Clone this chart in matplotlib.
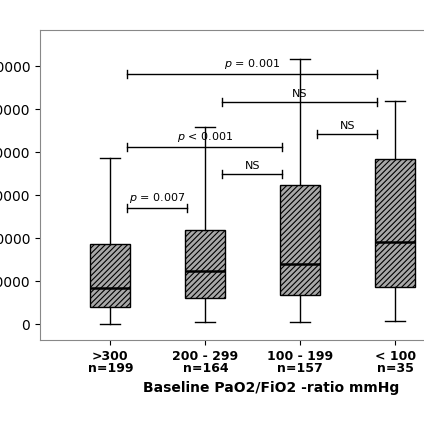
import matplotlib.pyplot as plt

groups = ['>300\nn=199', '200 - 299\nn=164', '100 - 199\nn=157', '< 100\nn=35']
whis_lo = [0, 5000, 5000, 7000]
q1 = [40000, 60000, 67000, 86000]
med = [84000, 123000, 140000, 190000]
q3 = [186000, 220000, 323000, 384000]
whis_hi = [386000, 458000, 616000, 519000]

# comparisons: (from group, to group, height, label)
comps = [(1, 4, 581000, '$p$ = 0.001'), (2, 4, 516000, 'NS'), (3, 4, 442000, 'NS'),
         (1, 3, 412000, '$p$ < 0.001'), (2, 3, 349000, 'NS'), (1, 2, 270000, '$p$ = 0.007')]
yticks = [0, 100000, 200000, 300000, 400000, 500000, 600000]

stats = [dict(whislo=a, q1=b, med=c, q3=d, whishi=e, fliers=[])
         for a, b, c, d, e in zip(whis_lo, q1, med, q3, whis_hi)]

fig = plt.figure(figsize=(4.24, 4.24), dpi=100)
ax = fig.add_axes([40 / 424, 84 / 424, 420 / 424, 310 / 424])
plt.rcParams['hatch.linewidth'] = 0.8
bp = ax.bxp(stats, positions=[1, 2, 3, 4], widths=0.42, patch_artist=True,
            boxprops=dict(facecolor='#a8a8a8', edgecolor='black', hatch='//////', linewidth=1),
            medianprops=dict(color='black', linewidth=1.8),
            whiskerprops=dict(linewidth=1), capprops=dict(linewidth=1))

for a, b, y, lab in comps:
    x0, x1 = a + 0.18, b - 0.19
    ax.plot([x0, x1], [y, y], color='black', lw=1)
    ax.plot([x0, x0], [y - 9000, y + 9000], color='black', lw=1)
    ax.plot([x1, x1], [y - 9000, y + 9000], color='black', lw=1)
    ax.text((x0 + x1) / 2, y + 8000, lab, ha='center', va='bottom', fontsize=8)

ax.set_xlim(0.26, 4.68)
ax.set_ylim(-37000, 684000)
ax.set_yticks(yticks)
ax.set_yticklabels([str(v) for v in yticks], fontsize=10)
ax.set_xticks([1, 2, 3, 4])
ax.set_xticklabels(groups, fontsize=9, fontweight='bold', linespacing=0.95)
ax.set_xlabel('Baseline PaO2/FiO2 -ratio mmHg', fontsize=10, fontweight='bold', x=0.55)
ax.spines['top'].set_color('#888888')
ax.spines['left'].set_color('#888888')
ax.spines['bottom'].set_color('#888888')
fig.savefig('out.png', dpi=100)
